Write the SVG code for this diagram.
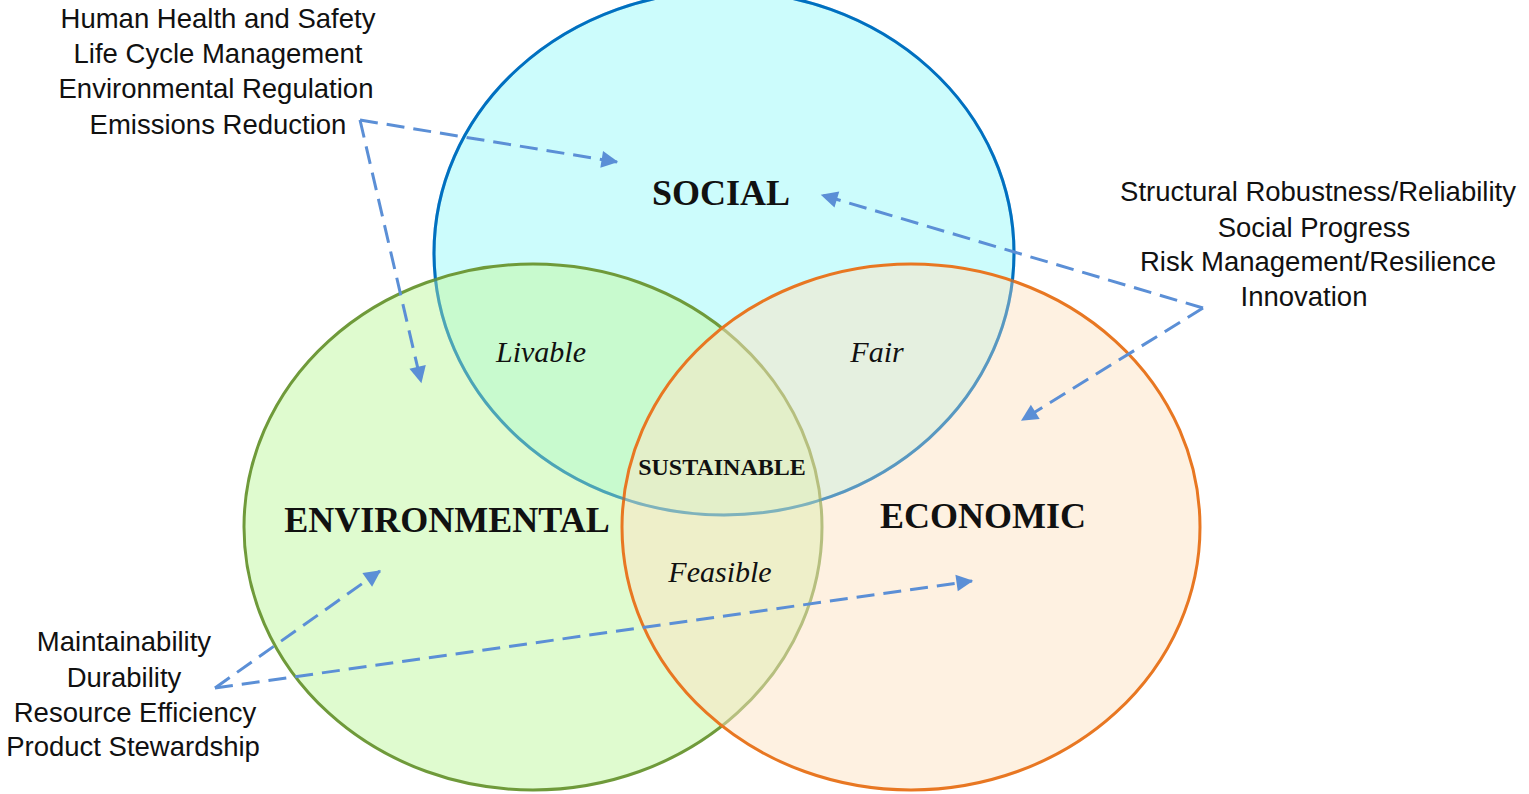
<svg xmlns="http://www.w3.org/2000/svg" width="1529" height="794" viewBox="0 0 1529 794">
<style>
.lab{font-family:"Liberation Sans",Arial,sans-serif;font-size:27.5px;fill:#111;text-anchor:middle}
.big{font-family:"Liberation Serif","Times New Roman",serif;font-weight:bold;font-size:36px;fill:#111;text-anchor:middle}
.it{font-family:"Liberation Serif","Times New Roman",serif;font-style:italic;font-size:30px;fill:#111;text-anchor:middle}
.conn{fill:none;stroke:#5b8fd6;stroke-width:3;stroke-dasharray:18,9;marker-end:url(#ah)}
</style>
<defs>
<marker id="ah" viewBox="0 0 10 10" refX="9" refY="5" markerWidth="7" markerHeight="7" markerUnits="userSpaceOnUse" orient="auto" style="overflow:visible">
<path d="M0,0 L10,5 L0,10 z" fill="#5b8fd6" transform="scale(2.4) translate(-5.5,-3)"/>
</marker>
</defs>
<rect width="1529" height="794" fill="#fff"/>
<g id="social"><ellipse cx="724" cy="253" rx="290" ry="262" fill="#ccfcfc" stroke="#0070c0" stroke-width="3"/></g>
<g id="environmental"><ellipse cx="533" cy="527" rx="289" ry="263" fill="#c4f7a8" fill-opacity="0.55" stroke="#6f9a3a" stroke-width="3"/></g>
<g id="economic"><ellipse cx="911" cy="527" rx="289" ry="263" fill="#fde3c4" fill-opacity="0.5" stroke="#e87722" stroke-width="3"/></g>
<ellipse cx="724" cy="253" rx="290" ry="262" fill="none" stroke="#0070c0" stroke-width="3" stroke-opacity="0.3"/>
<g id="connectors">
<path class="conn" d="M360,120 L617,162"/>
<path class="conn" d="M360,120 L421,382"/>
<path class="conn" d="M1203,308 L822,195"/>
<path class="conn" d="M1203,308 L1022,420"/>
<path class="conn" d="M215,688 L380,571"/>
<path class="conn" d="M215,688 L972,581"/>
</g>
<g id="labels">
<text class="big" x="721" y="205">SOCIAL</text>
<text class="big" x="447" y="532">ENVIRONMENTAL</text>
<text class="big" x="983" y="528">ECONOMIC</text>
<text class="big" x="722" y="475" style="font-size:24px">SUSTAINABLE</text>
<text class="it" x="541" y="362">Livable</text>
<text class="it" x="877" y="362">Fair</text>
<text class="it" x="720" y="582">Feasible</text>
</g>
<g id="text-social-env">
<text class="lab" x="218" y="28">Human Health and Safety</text>
<text class="lab" x="218" y="63">Life Cycle Management</text>
<text class="lab" x="216" y="98">Environmental Regulation</text>
<text class="lab" x="218" y="134">Emissions Reduction</text>
</g>
<g id="text-social-econ">
<text class="lab" x="1318" y="201">Structural Robustness/Reliability</text>
<text class="lab" x="1314" y="237">Social Progress</text>
<text class="lab" x="1318" y="271">Risk Management/Resilience</text>
<text class="lab" x="1304" y="306">Innovation</text>
</g>
<g id="text-env-econ">
<text class="lab" x="124" y="651">Maintainability</text>
<text class="lab" x="124" y="687">Durability</text>
<text class="lab" x="135" y="722">Resource Efficiency</text>
<text class="lab" x="133" y="756">Product Stewardship</text>
</g>
</svg>
